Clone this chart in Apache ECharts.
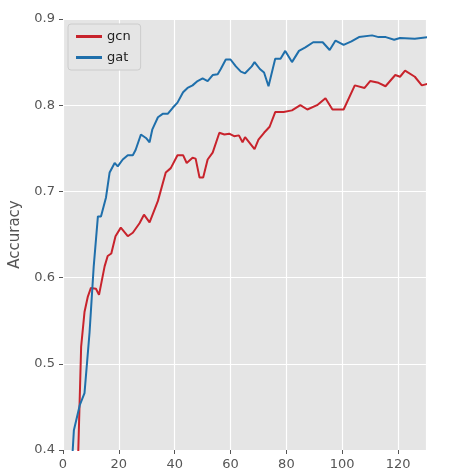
<!DOCTYPE html>
<html>
<head>
<meta charset="utf-8">
<script src="https://cdn.jsdelivr.net/npm/echarts@6/dist/echarts.min.js"></script>
<style>html,body{margin:0;padding:0;background:#fff}#chart{width:474px;height:474px}</style>
</head>
<body>
<div id="chart"></div>
<script>
// [epoch, accuracy]
const gcnPoints = [
  [5.4,0.39],[6.5,0.52],[7.7,0.56],[8.9,0.578],[10,0.588],[11.8,0.587],[12.9,0.58],[14.9,0.613],
  [16,0.625],[17.3,0.628],[18.8,0.648],[20.7,0.658],[23.2,0.648],[25,0.652],[27.4,0.663],[29,0.673],
  [31,0.664],[34,0.689],[36.8,0.722],[38.6,0.727],[41,0.742],[43,0.742],[44.3,0.733],[46.4,0.739],
  [47.5,0.738],[48.9,0.716],[50.2,0.716],[51.8,0.737],[53.6,0.745],[56,0.768],[57.8,0.766],[59.5,0.767],
  [61.3,0.764],[63,0.765],[64.3,0.757],[65.2,0.763],[68.6,0.749],[70,0.76],[72,0.768],[74,0.775],
  [76,0.792],[79,0.792],[82,0.794],[85,0.80],[87.5,0.795],[91,0.80],[94,0.808],[96.5,0.795],
  [100.5,0.795],[104.5,0.823],[108,0.82],[110,0.828],[113,0.826],[115.5,0.822],[119,0.835],
  [120.7,0.833],[122.5,0.84],[126,0.833],[128.5,0.823],[130.7,0.825]
];
const gatPoints = [
  [3.3,0.39],[3.9,0.423],[6,0.452],[7.7,0.466],[9.5,0.536],[11,0.613],[12.5,0.671],[13.6,0.671],
  [15.4,0.693],[16.7,0.722],[18.5,0.733],[19.6,0.729],[21.4,0.737],[23.2,0.742],[25,0.742],[26,0.748],
  [27.9,0.766],[29.7,0.762],[31,0.757],[32,0.772],[34,0.786],[35.7,0.79],[37.5,0.79],[39.3,0.797],
  [41,0.803],[43,0.815],[44.6,0.82],[46.4,0.823],[48.2,0.828],[50,0.831],[51.8,0.828],[53.6,0.835],
  [55.4,0.836],[56.5,0.842],[58.3,0.853],[60,0.853],[61.9,0.845],[63.7,0.839],[65.2,0.837],[67.6,0.845],
  [68.6,0.85],[70.5,0.842],[72,0.838],[73.6,0.822],[76,0.854],[77.9,0.854],[79.6,0.863],[82,0.85],
  [84.5,0.863],[86.8,0.867],[89.6,0.873],[93,0.873],[95.5,0.864],[97.6,0.875],[100.5,0.87],
  [103.3,0.874],[106,0.879],[110.7,0.881],[113,0.879],[115.6,0.879],[118.6,0.876],[120.7,0.878],
  [126,0.877],[130.7,0.879]
];
const xTicks = [0, 20, 40, 60, 80, 100, 120];
const yTicks = [0.4, 0.5, 0.6, 0.7, 0.8, 0.9];

const chart = echarts.init(document.getElementById('chart'));
const axisText = { color: '#555', fontSize: 13, fontFamily: 'DejaVu Sans' };
chart.setOption({
  animation: false,
  grid: { left: 60, right: 48, top: 19, bottom: 24, backgroundColor: '#e5e5e5', show: true, borderWidth: 0 },
  legend: {
    left: 68, top: 24, orient: 'vertical', itemWidth: 26, itemHeight: 3, itemGap: 8,
    backgroundColor: '#e5e5e5', borderColor: '#ccc', borderWidth: 1, borderRadius: 3, padding: [6, 10, 6, 8],
    textStyle: { color: '#222', fontSize: 13, fontFamily: 'DejaVu Sans' },
    icon: 'rect', data: ['gcn', 'gat']
  },
  xAxis: {
    type: 'value', min: 0, max: 130, interval: 20,
    axisLine: { show: false }, axisTick: { show: true, length: 4, lineStyle: { color: '#555' } },
    axisLabel: Object.assign({ showMaxLabel: false, formatter: v => xTicks.includes(v) ? String(v) : '' }, axisText),
    splitLine: { lineStyle: { color: '#fff', width: 1.2 } }
  },
  yAxis: {
    type: 'value', min: 0.4, max: 0.9, interval: 0.1,
    name: 'Accuracy', nameLocation: 'middle', nameGap: 40,
    nameTextStyle: { color: '#555', fontSize: 15, fontFamily: 'DejaVu Sans' },
    axisLine: { show: false }, axisTick: { show: true, length: 4, lineStyle: { color: '#555' } },
    axisLabel: Object.assign({ formatter: v => yTicks.find(t => Math.abs(t - v) < 1e-6)?.toFixed(1) ?? '' }, axisText),
    splitLine: { lineStyle: { color: '#fff', width: 1.2 } }
  },
  series: [
    { name: 'gcn', type: 'line', data: gcnPoints, showSymbol: false, clip: true,
      lineStyle: { color: '#c8232c', width: 2 }, itemStyle: { color: '#c8232c' } },
    { name: 'gat', type: 'line', data: gatPoints, showSymbol: false, clip: true,
      lineStyle: { color: '#1f6fab', width: 2 }, itemStyle: { color: '#1f6fab' } }
  ]
});
</script>
</body>
</html>
